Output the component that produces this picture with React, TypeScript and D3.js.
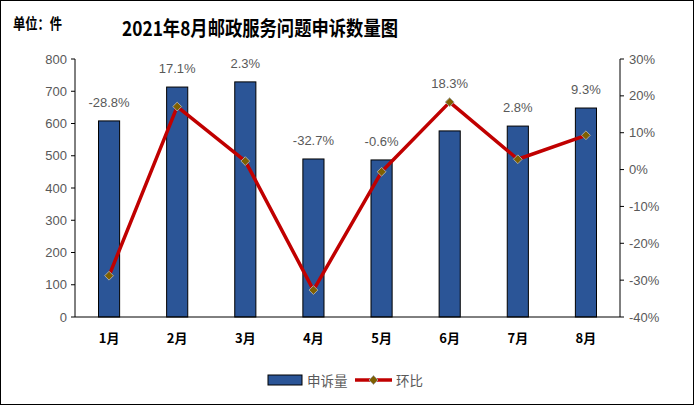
import * as d3 from "d3";
import { useEffect } from "react";

const months = ["1月", "2月", "3月", "4月", "5月", "6月", "7月", "8月"];
const complaints = [608, 713, 729, 490, 487, 577, 592, 648];
const momChange = [-28.8, 17.1, 2.3, -32.7, -0.6, 18.3, 2.8, 9.3];
const countTicks = [0, 100, 200, 300, 400, 500, 600, 700, 800];
const pctTicks = [-40, -30, -20, -10, 0, 10, 20, 30];

const W = 694;
const H = 405;
const margin = { top: 59, right: 74, bottom: 88, left: 75 };

const numFont = "'Liberation Sans Narrow', 'Liberation Sans', Arial, sans-serif";
const cjkFont = "'Noto Sans CJK SC', 'Noto Sans', sans-serif";
const labelColor = "#595959";

const App = () => {
  useEffect(() => {
    document.body.style.margin = "0";
  }, []);

  const x = d3
    .scaleBand()
    .domain(months)
    .range([margin.left, W - margin.right])
    .paddingInner(0.69)
    .paddingOuter(0.345);

  const yLeft = d3
    .scaleLinear()
    .domain([0, 800])
    .range([H - margin.bottom, margin.top]);

  const yRight = d3
    .scaleLinear()
    .domain([-40, 30])
    .range([H - margin.bottom, margin.top]);

  const cx = (m) => x(m) + x.bandwidth() / 2;

  const line = d3
    .line()
    .x((d, i) => cx(months[i]))
    .y((d) => yRight(d));

  const diamond = d3.symbol().type(d3.symbolDiamond2).size(50);

  const x0 = margin.left;
  const x1 = W - margin.right;
  const yBase = H - margin.bottom;

  return (
    <svg
      width={W}
      height={H}
      style={{ position: "fixed", left: 0, top: 0, background: "#fff" }}
    >
      <rect x={0.5} y={0.5} width={W - 1} height={H - 1} fill="#fff" stroke="#000" />

      <text
        x={13}
        y={29}
        fontFamily={cjkFont}
        fontSize={15}
        fontWeight="bold"
        fill="#000"
        textLength={49}
        lengthAdjust="spacingAndGlyphs"
      >
        单位：件
      </text>
      <text
        x={122}
        y={36}
        fontFamily={cjkFont}
        fontSize={20.5}
        fontWeight="bold"
        fill="#000"
        textLength={276}
        lengthAdjust="spacingAndGlyphs"
      >
        2021年8月邮政服务问题申诉数量图
      </text>

      {/* bars */}
      {complaints.map((v, i) => (
        <rect
          key={months[i]}
          x={x(months[i])}
          y={yLeft(v)}
          width={x.bandwidth()}
          height={yBase - yLeft(v)}
          fill="#2B5597"
          stroke="#000"
          strokeWidth={1}
        />
      ))}

      {/* left axis */}
      <line x1={x0} x2={x0} y1={margin.top} y2={yBase} stroke="#000" />
      {countTicks.map((t) => (
        <g key={t} transform={`translate(${x0},${yLeft(t)})`}>
          <line x1={-4} x2={0} stroke="#000" />
          <text
            x={-8}
            dy="0.35em"
            textAnchor="end"
            fontFamily={numFont}
            fontSize={13}
            fill={labelColor}
          >
            {t}
          </text>
        </g>
      ))}

      {/* right axis */}
      <line x1={x1} x2={x1} y1={margin.top} y2={yBase} stroke="#000" />
      {pctTicks.map((t) => (
        <g key={t} transform={`translate(${x1},${yRight(t)})`}>
          <line x1={0} x2={4} stroke="#000" />
          <text
            x={9}
            dy="0.35em"
            textAnchor="start"
            fontFamily={numFont}
            fontSize={13}
            fill={labelColor}
          >
            {t}%
          </text>
        </g>
      ))}

      {/* bottom axis */}
      <line x1={x0} x2={x1} y1={yBase} y2={yBase} stroke="#000" />
      {months.map((m) => (
        <text
          key={m}
          x={cx(m)}
          y={343}
          textAnchor="middle"
          fontFamily={cjkFont}
          fontSize={13}
          fontWeight="bold"
          fill="#000"
        >
          {m}
        </text>
      ))}

      {/* month-on-month line */}
      <path
        d={line(momChange)}
        fill="none"
        stroke="#C00000"
        strokeWidth={3.5}
        strokeLinejoin="round"
      />
      {momChange.map((v, i) => (
        <path
          key={i}
          d={diamond()}
          transform={`translate(${cx(months[i])},${yRight(v)})`}
          fill="#7F6000"
          stroke="#A6A6A6"
          strokeWidth={1}
        />
      ))}

      {/* value labels */}
      {momChange.map((v, i) => {
        const top = Math.min(yLeft(complaints[i]), yRight(v));
        return (
          <text
            key={i}
            x={cx(months[i])}
            y={top - 14}
            textAnchor="middle"
            fontFamily={numFont}
            fontSize={13}
            fill={labelColor}
          >
            {v}%
          </text>
        );
      })}

      {/* legend */}
      <g transform="translate(268,375)">
        <rect x={0} y={0} width={34} height={10} fill="#2B5597" stroke="#000" />
        <text x={39} y={10.5} fontFamily={cjkFont} fontSize={13.5} fill={labelColor}>
          申诉量
        </text>
        <line x1={87} x2={124} y1={5} y2={5} stroke="#C00000" strokeWidth={3.5} />
        <path
          d={diamond()}
          transform="translate(105.5,5)"
          fill="#7F6000"
          stroke="#A6A6A6"
        />
        <text x={128} y={10.5} fontFamily={cjkFont} fontSize={13.5} fill={labelColor}>
          环比
        </text>
      </g>
    </svg>
  );
};

export default App;
